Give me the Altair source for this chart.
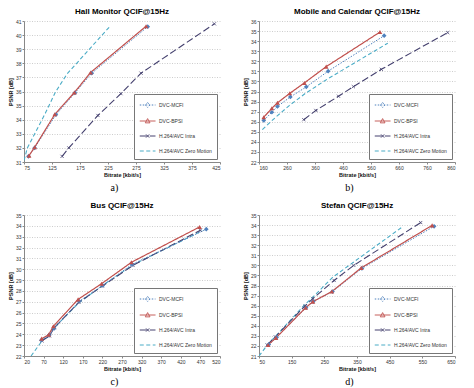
import altair as alt
import pandas as pd

SERIES = ["DVC-MCFI", "DVC-BPSI", "H.264/AVC Intra", "H.264/AVC Zero Motion"]
COLORS = ["#4f81bd", "#c0504d", "#44406e", "#4bacc6"]
DASHES = [[1.5, 1.5], [1, 0], [7, 3], [4, 2.5]]
WIDTHS = [1.0, 1.2, 1.1, 1.1]
LEG_SHAPES = [
    "M-1,0H2M0.5,-0.45L0.95,0L0.5,0.45L0.05,0Z",
    "M-1,0H2M0.5,-0.45L0.95,0.35L0.05,0.35Z",
    "M-1,0H2M0.2,-0.3L0.8,0.3M0.2,0.3L0.8,-0.3",
    "M-1,0H2",
]

# ---- a) Hall Monitor ----
hall_mcfi_rate = [83, 94, 132, 166, 196, 296]
hall_mcfi_psnr = [31.4, 32.0, 34.35, 35.9, 37.3, 40.6]
hall_bpsi_rate = [84, 94, 130, 165, 194, 293]
hall_bpsi_psnr = [31.45, 32.05, 34.38, 35.93, 37.35, 40.63]
hall_intra_rate = [143, 155, 207, 248, 284, 415]
hall_intra_psnr = [31.4, 32.0, 34.3, 35.85, 37.3, 40.8]
hall_zero_rate = [75, 81, 113, 131, 152, 228]
hall_zero_psnr = [31.1, 32.0, 34.45, 35.95, 37.25, 40.6]

# ---- b) Mobile and Calendar ----
mob_mcfi_rate = [177, 206, 226, 272, 329, 407, 607]
mob_mcfi_psnr = [26.13, 26.94, 27.52, 28.46, 29.46, 31.02, 34.54]
mob_bpsi_rate = [177, 206, 226, 270, 322, 400, 592]
mob_bpsi_psnr = [26.45, 27.33, 27.88, 28.82, 29.85, 31.47, 34.9]
mob_intra_rate = [320, 363, 444, 497, 597, 834]
mob_intra_psnr = [26.2, 27.12, 28.53, 29.48, 31.2, 34.85]
mob_zero_rate = [172, 200, 224, 268, 325, 405, 620]
mob_zero_psnr = [25.22, 25.95, 26.55, 27.6, 28.8, 30.25, 33.8]

# ---- c) Bus ----
bus_mcfi_rate = [64, 84, 97, 161, 221, 296, 485]
bus_mcfi_psnr = [23.45, 23.9, 24.55, 27.05, 28.5, 30.45, 33.69]
bus_bpsi_rate = [65, 83, 95, 158, 218, 294, 468]
bus_bpsi_psnr = [23.6, 23.97, 24.75, 27.22, 28.67, 30.64, 33.9]
bus_intra_rate = [66, 85, 97, 160, 220, 298, 470]
bus_intra_psnr = [23.4, 23.85, 24.6, 26.95, 28.45, 30.35, 33.6]
bus_zero_rate = [38, 65, 85, 97, 160, 220, 300, 475]
bus_zero_psnr = [22.0, 23.35, 24.1, 24.6, 26.9, 28.5, 30.45, 33.55]

# ---- d) Stefan ----
ste_mcfi_rate = [80, 104, 194, 216, 275, 365, 586]
ste_mcfi_psnr = [22.15, 22.85, 25.8, 26.4, 27.4, 29.7, 33.88]
ste_bpsi_rate = [78, 102, 193, 215, 273, 363, 580]
ste_bpsi_psnr = [22.1, 22.8, 25.8, 26.4, 27.4, 29.75, 33.97]
ste_intra_rate = [75, 100, 190, 215, 280, 340, 545]
ste_intra_psnr = [22.1, 22.9, 25.95, 26.7, 28.5, 30.0, 34.25]
ste_zero_rate = [50, 78, 102, 190, 215, 275, 345, 488]
ste_zero_psnr = [21.0, 22.2, 23.0, 26.1, 26.85, 28.8, 30.45, 33.8]

hall_xticks = [75, 125, 175, 225, 275, 325, 375, 425]
hall_yticks = list(range(31, 42))
mob_xticks = [160, 260, 360, 460, 560, 660, 760, 860]
mob_yticks = list(range(22, 37))
bus_xticks = [20, 70, 120, 170, 220, 270, 320, 370, 420, 470, 520]
bus_yticks = list(range(22, 36))
ste_xticks = [50, 150, 250, 350, 450, 550, 650]
ste_yticks = list(range(21, 36))

W, H = 196, 141
FONT = "Liberation Sans"


def build_df(pairs):
    rows = []
    for name, (rates, psnrs) in zip(SERIES, pairs):
        for r, p in zip(rates, psnrs):
            rows.append({"series": name, "rate": r, "psnr": p})
    return pd.DataFrame(rows)


def panel(title, caption, pairs, xticks, yticks):
    df = build_df(pairs)
    base = alt.Chart(df)
    x = alt.X("rate:Q",
              scale=alt.Scale(domain=[xticks[0], xticks[-1]], nice=False, zero=False),
              axis=alt.Axis(values=xticks, title="Bitrate [kbit/s]", grid=False))
    y = alt.Y("psnr:Q",
              scale=alt.Scale(domain=[yticks[0], yticks[-1]], nice=False, zero=False),
              axis=alt.Axis(values=yticks, title="PSNR [dB]", grid=True))
    layers = []
    # lines, drawn zero motion first so the DVC curves sit on top
    for i in [3, 2, 0, 1]:
        layers.append(
            base.transform_filter(alt.datum.series == SERIES[i]).mark_line(
                color=COLORS[i], strokeDash=DASHES[i], strokeWidth=WIDTHS[i], clip=True
            ).encode(x=x, y=y)
        )
    layers.append(base.transform_filter(alt.datum.series == SERIES[2]).mark_point(
        shape="M-1,-1L1,1M-1,1L1,-1", filled=False, size=10, strokeWidth=0.8,
        color=COLORS[2], opacity=1).encode(x=x, y=y))
    layers.append(base.transform_filter(alt.datum.series == SERIES[0]).mark_point(
        shape="diamond", filled=True, size=22, color=COLORS[0], opacity=1).encode(x=x, y=y))
    layers.append(base.transform_filter(alt.datum.series == SERIES[1]).mark_point(
        shape="triangle-up", filled=True, size=22, color=COLORS[1], opacity=1).encode(x=x, y=y))

    cscale = alt.Scale(domain=SERIES, range=COLORS)
    dscale = alt.Scale(domain=SERIES, range=DASHES)
    leg = dict(orient="bottom-right", title=None, labelFontSize=5, labelFont=FONT,
               labelColor="#333", symbolSize=110, rowPadding=5, padding=5,
               strokeColor="#777", fillColor="white", offset=3, labelOffset=8,
               symbolStrokeWidth=1)
    layers.append(base.transform_filter("false").mark_point(
        filled=False, opacity=1, strokeWidth=1).encode(
        x=x, y=y,
        color=alt.Color("series:N", scale=cscale, legend=alt.Legend(**leg)),
        shape=alt.Shape("series:N", scale=alt.Scale(domain=SERIES, range=LEG_SHAPES),
                        legend=alt.Legend(**leg)),
        strokeDash=alt.StrokeDash("series:N", scale=dscale, legend=alt.Legend(**leg)),
    ))
    layer = alt.layer(*layers).properties(
        width=W, height=H,
        title=alt.Title(title, fontSize=8, font=FONT, fontWeight="bold", offset=3,
                        anchor="middle"),
    )
    wrapped = alt.vconcat(
        layer,
        title=alt.Title(caption, orient="bottom", font="Liberation Serif", fontSize=10,
                        fontWeight="normal", offset=5, anchor="middle"),
    )
    return indep(wrapped)


def indep(c):
    return c.resolve_scale(color="independent", shape="independent",
                           strokeDash="independent").resolve_legend(
        color="independent", shape="independent", strokeDash="independent")


pa = panel("Hall Monitor QCIF@15Hz", "a)",
           [(hall_mcfi_rate, hall_mcfi_psnr), (hall_bpsi_rate, hall_bpsi_psnr),
            (hall_intra_rate, hall_intra_psnr), (hall_zero_rate, hall_zero_psnr)],
           hall_xticks, hall_yticks)
pb = panel("Mobile and Calendar QCIF@15Hz", "b)",
           [(mob_mcfi_rate, mob_mcfi_psnr), (mob_bpsi_rate, mob_bpsi_psnr),
            (mob_intra_rate, mob_intra_psnr), (mob_zero_rate, mob_zero_psnr)],
           mob_xticks, mob_yticks)
pc = panel("Bus QCIF@15Hz", "c)",
           [(bus_mcfi_rate, bus_mcfi_psnr), (bus_bpsi_rate, bus_bpsi_psnr),
            (bus_intra_rate, bus_intra_psnr), (bus_zero_rate, bus_zero_psnr)],
           bus_xticks, bus_yticks)
pd_ = panel("Stefan QCIF@15Hz", "d)",
            [(ste_mcfi_rate, ste_mcfi_psnr), (ste_bpsi_rate, ste_bpsi_psnr),
             (ste_intra_rate, ste_intra_psnr), (ste_zero_rate, ste_zero_psnr)],
            ste_xticks, ste_yticks)

row1 = indep(alt.hconcat(pa, pb, spacing=22))
row2 = indep(alt.hconcat(pc, pd_, spacing=22))
chart = indep(alt.vconcat(row1, row2, spacing=9)).properties(padding=0).configure_view(
    stroke=None
).configure_axis(
    labelFont=FONT, labelFontSize=5, labelColor="#333", labelPadding=1,
    titleFont=FONT, titleFontSize=5.5, titleFontWeight="bold", titleColor="#111",
    titlePadding=2, tickSize=2, tickColor="#888", domainColor="#888",
    gridColor="#b8b8b8", gridDash=[1, 1.5], gridWidth=0.7,
).configure_axisX(labelAngle=0)

chart.save("out.html", embed_options={"renderer": "svg", "actions": False})
